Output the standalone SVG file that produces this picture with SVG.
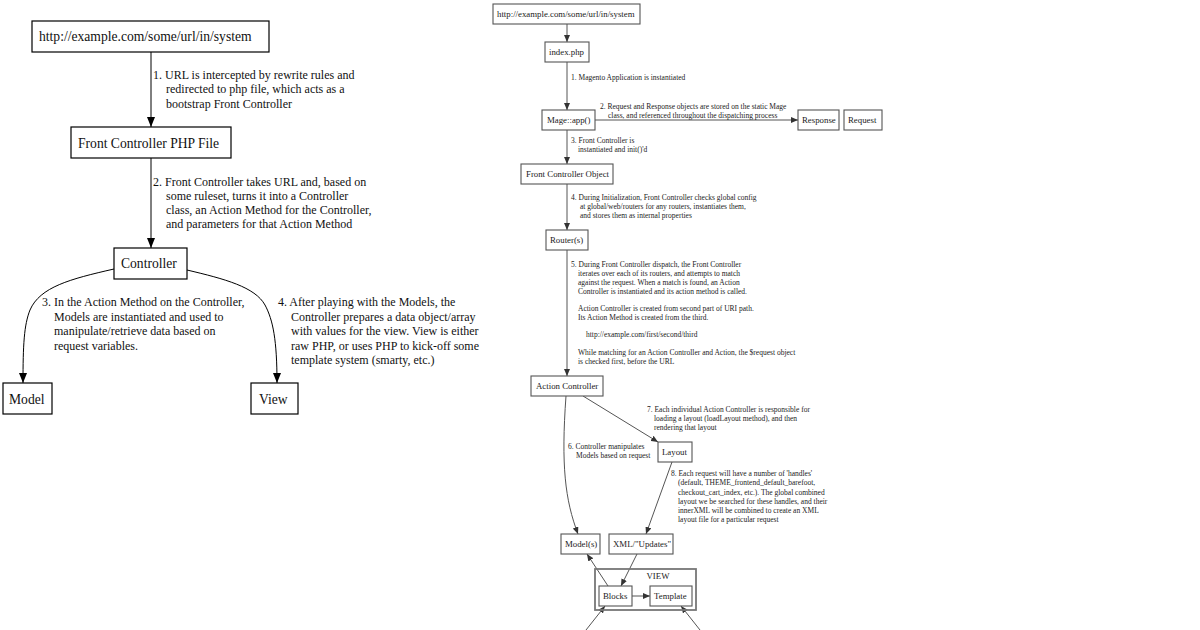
<svg xmlns="http://www.w3.org/2000/svg" width="1200" height="630" viewBox="0 0 1200 630">
<defs>
<style>
.bg{fill:#ffffff}
.nl{fill:#ffffff;stroke:#000000;stroke-width:1.2}
.tl{font-family:"Liberation Serif","Times New Roman",serif;font-size:13.6px;fill:#111111}
.ll{font-family:"Liberation Serif","Times New Roman",serif;font-size:12px;fill:#111111}
.el{fill:none;stroke:#000000;stroke-width:1}
.nr{fill:#ffffff;stroke:#555555;stroke-width:1.1}
.tr{font-family:"Liberation Serif","Times New Roman",serif;font-size:8.8px;fill:#222222}
.lr{font-family:"Liberation Serif","Times New Roman",serif;font-size:7.5px;fill:#222222}
.er{fill:none;stroke:#555555;stroke-width:1}
.cl{fill:none;stroke:#777777;stroke-width:1.8}
</style>
<marker id="aL" markerUnits="userSpaceOnUse" markerWidth="10" markerHeight="8" refX="10" refY="4" orient="auto">
<path d="M0,0 L10,4 L0,8 z" fill="#000000"/>
</marker>
<marker id="aR" markerUnits="userSpaceOnUse" markerWidth="7" markerHeight="6" refX="7" refY="3" orient="auto">
<path d="M0,0 L7,3 L0,6 z" fill="#333333"/>
</marker>
</defs>
<rect class="bg" x="0" y="0" width="1200" height="630"/>

<g id="connectors">
<line class="el" x1="151" y1="52" x2="151" y2="127" marker-end="url(#aL)"/>
<line class="el" x1="151" y1="158" x2="151" y2="248" marker-end="url(#aL)"/>
<path class="el" d="M114,269 C70,279 40,287 30,310 C24,325 23,345 23,383" marker-end="url(#aL)"/>
<path class="el" d="M187,270 C225,279 255,287 265,305 C273,320 277,340 277,383" marker-end="url(#aL)"/>

<line class="er" x1="567" y1="24" x2="567" y2="42" marker-end="url(#aR)"/>
<line class="er" x1="567" y1="62" x2="567" y2="110" marker-end="url(#aR)"/>
<line class="er" x1="595" y1="120" x2="798" y2="120" marker-end="url(#aR)"/>
<line class="er" x1="567" y1="130" x2="567" y2="164" marker-end="url(#aR)"/>
<line class="er" x1="567" y1="184" x2="567" y2="230" marker-end="url(#aR)"/>
<line class="er" x1="567" y1="250" x2="567" y2="376" marker-end="url(#aR)"/>
<path class="er" d="M566,396 C561,465 565,500 578,534" marker-end="url(#aR)"/>
<line class="er" x1="583" y1="396" x2="658" y2="442" marker-end="url(#aR)"/>
<line class="er" x1="672" y1="462" x2="646" y2="534" marker-end="url(#aR)"/>
<line class="er" x1="608" y1="586" x2="587" y2="554" marker-end="url(#aR)"/>
<line class="er" x1="637" y1="554" x2="621" y2="586" marker-end="url(#aR)"/>
<line class="er" x1="632" y1="596" x2="650" y2="596" marker-end="url(#aR)"/>
<line class="er" x1="586" y1="630" x2="605" y2="606" marker-end="url(#aR)"/>
<line class="er" x1="700" y1="630" x2="681" y2="606" marker-end="url(#aR)"/>
</g>

<g id="edge-labels-left">
<text class="ll" x="153" y="79">1. URL is intercepted by rewrite rules and</text>
<text class="ll" x="166" y="93">redirected to php file, which acts as a</text>
<text class="ll" x="166" y="108">bootstrap Front Controller</text>
<text class="ll" x="153" y="186">2. Front Controller takes URL and, based on</text>
<text class="ll" x="166" y="200">some ruleset, turns  it into a Controller</text>
<text class="ll" x="166" y="214">class, an Action Method for the Controller,</text>
<text class="ll" x="166" y="228">and parameters for that Action Method</text>
<text class="ll" x="42" y="306">3. In the Action Method on the Controller,</text>
<text class="ll" x="54" y="321">Models are instantiated and used to</text>
<text class="ll" x="54" y="335">manipulate/retrieve data based on</text>
<text class="ll" x="54" y="350">request variables.</text>
<text class="ll" x="278" y="306">4. After playing with the Models, the</text>
<text class="ll" x="291" y="321">Controller prepares a data  object/array</text>
<text class="ll" x="291" y="335">with values for the view.  View is either</text>
<text class="ll" x="291" y="350">raw PHP, or uses PHP to kick-off some</text>
<text class="ll" x="291" y="364">template system (smarty, etc.)</text>
</g>

<g id="n-url-left"><rect class="nl" x="32" y="21" width="237" height="31"/><text class="tl" x="39" y="41">http://example.com/some/url/in/system</text></g>
<g id="n-fcphp"><rect class="nl" x="71" y="127" width="160" height="31"/><text class="tl" x="78" y="148">Front Controller PHP File</text></g>
<g id="n-controller"><rect class="nl" x="114" y="248" width="73" height="31"/><text class="tl" x="121" y="268">Controller</text></g>
<g id="n-model"><rect class="nl" x="3" y="383" width="49" height="31"/><text class="tl" x="9" y="404">Model</text></g>
<g id="n-view"><rect class="nl" x="251" y="383" width="47" height="31"/><text class="tl" x="259" y="404">View</text></g>

<g id="edge-labels-right">
<text class="lr" x="571" y="80">1. Magento Application is instantiated</text>
<text class="lr" x="600" y="109">2. Request and Response objects are stored on the static Mage</text>
<text class="lr" x="608" y="118">class, and referenced throughout the dispatching process</text>
<text class="lr" x="571" y="143">3. Front Controller is</text>
<text class="lr" x="578" y="152">instantiated and init()'d</text>
<text class="lr" x="571" y="200">4. During Initialization, Front Controller checks global config</text>
<text class="lr" x="580" y="209">at global/web/routers for any routers, instantiates them,</text>
<text class="lr" x="580" y="218">and stores them as internal properties</text>
<text class="lr" x="571" y="267">5. During Front Controller dispatch, the Front Controller</text>
<text class="lr" x="578" y="276">iterates over each of its routers, and attempts to match</text>
<text class="lr" x="578" y="285">against the request. When a match is found, an Action</text>
<text class="lr" x="578" y="294">Controller is instantiated and its action method is called.</text>
<text class="lr" x="578" y="311">Action Controller is created from second part of URI path.</text>
<text class="lr" x="578" y="320">Its Action Method is created from the third.</text>
<text class="lr" x="586" y="337">http://example.com/first/second/third</text>
<text class="lr" x="578" y="355">While matching for an  Action Controller and Action, the $request object</text>
<text class="lr" x="578" y="364">is checked first, before the URL</text>
<text class="lr" x="568" y="449">6. Controller manipulates</text>
<text class="lr" x="576" y="458">Models based on request</text>
<text class="lr" x="647" y="412">7. Each individual Action Controller is responsible for</text>
<text class="lr" x="654" y="421">loading a layout (loadLayout method), and then</text>
<text class="lr" x="654" y="430">rendering that layout</text>
<text class="lr" x="671" y="476">8. Each request will have a number of 'handles'</text>
<text class="lr" x="678" y="485">(default, THEME_frontend_default_barefoot,</text>
<text class="lr" x="678" y="495">checkout_cart_index, etc.).  The global combined</text>
<text class="lr" x="678" y="504">layout we be searched for these handles, and their</text>
<text class="lr" x="678" y="513">innerXML will be combined to create an XML</text>
<text class="lr" x="678" y="522">layout file for a particular request</text>
</g>

<g id="n-url-right"><rect class="nr" x="493" y="4" width="147" height="20"/><text class="tr" x="497" y="17">http://example.com/some/url/in/system</text></g>
<g id="n-index"><rect class="nr" x="545" y="42" width="44" height="20"/><text class="tr" x="549" y="55">index.php</text></g>
<g id="n-mage"><rect class="nr" x="542" y="110" width="53" height="20"/><text class="tr" x="547" y="123">Mage::app()</text></g>
<g id="n-response"><rect class="nr" x="798" y="110" width="41" height="20"/><text class="tr" x="802" y="123">Response</text></g>
<g id="n-request"><rect class="nr" x="844" y="110" width="38" height="20"/><text class="tr" x="848" y="123">Request</text></g>
<g id="n-fco"><rect class="nr" x="521" y="164" width="92" height="20"/><text class="tr" x="526" y="177">Front Controller Object</text></g>
<g id="n-router"><rect class="nr" x="546" y="230" width="42" height="20"/><text class="tr" x="550" y="243">Router(s)</text></g>
<g id="n-action"><rect class="nr" x="531" y="376" width="72" height="20"/><text class="tr" x="536" y="389">Action Controller</text></g>
<g id="n-layout"><rect class="nr" x="658" y="442" width="34" height="20"/><text class="tr" x="662" y="455">Layout</text></g>
<g id="n-models"><rect class="nr" x="561" y="534" width="39" height="20"/><text class="tr" x="565" y="547">Model(s)</text></g>
<g id="n-xml"><rect class="nr" x="609" y="534" width="64" height="20"/><text class="tr" x="613" y="547">XML/"Updates"</text></g>
<g id="cluster-view"><rect class="cl" x="595" y="569" width="101" height="41"/><text class="tr" x="658" y="579" text-anchor="middle">VIEW</text></g>
<g id="n-blocks"><rect class="nr" x="599" y="586" width="33" height="20"/><text class="tr" x="603" y="599">Blocks</text></g>
<g id="n-template"><rect class="nr" x="650" y="586" width="42" height="20"/><text class="tr" x="654" y="599">Template</text></g>
</svg>
